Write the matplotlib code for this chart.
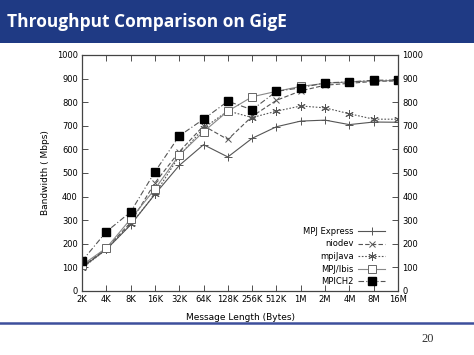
import matplotlib
matplotlib.use("Agg")
import matplotlib.pyplot as plt
from matplotlib.patches import Rectangle
from matplotlib.lines import Line2D

sizes = ["2K", "4K", "8K", "16K", "32K", "64K", "128K", "256K", "512K", "1M", "2M", "4M", "8M", "16M"]
mpj_express = [100, 176, 280, 410, 532, 620, 568, 647, 696, 720, 724, 705, 716, 715]
niodev = [102, 180, 290, 458, 590, 700, 642, 740, 808, 848, 872, 880, 888, 890]
mpijava = [96, 176, 282, 410, 572, 690, 763, 735, 762, 784, 776, 751, 728, 728]
mpj_ibis = [110, 182, 305, 432, 576, 675, 762, 823, 846, 867, 880, 886, 890, 892]
mpich2 = [127, 251, 335, 505, 657, 728, 804, 768, 846, 861, 882, 886, 893, 894]
yticks = [0, 100, 200, 300, 400, 500, 600, 700, 800, 900, 1000]

W, H = 474, 355
fig = plt.figure(figsize=(W / 100, H / 100), dpi=100)
fig.patch.set_facecolor("white")

# title bar
fig.patches.append(Rectangle((0, 1 - 43 / H), 1, 43 / H, transform=fig.transFigure,
                             facecolor="#1f3a84", edgecolor="none", zorder=0))
fig.text(7 / W, 1 - 22 / H, "Throughput Comparison on GigE", color="white",
         fontsize=12.5, fontweight="bold", family="Open Sans", va="center", ha="left")
# bottom rule
fig.add_artist(Line2D([0, 1], [1 - 323 / H, 1 - 323 / H], transform=fig.transFigure,
                      color="#3d4f9c", lw=1.8))
fig.text(428 / W, 1 - 339 / H, "20", fontsize=9, family="Liberation Serif",
         ha="center", va="center", color="#333333")

ax = fig.add_axes([82 / W, (H - 291) / H, 316 / W, 236 / H])
x = list(range(len(sizes)))
ax.plot(x, mpj_express, color="#555555", lw=0.8, ls="-", marker="+", ms=6, mew=0.7,
        label="MPJ Express")
ax.plot(x, niodev, color="#555555", lw=0.8, ls=(0, (4, 2)), marker="x", ms=5, mew=0.7,
        label="niodev")
ax.plot(x, mpijava, color="#555555", lw=0.8, ls=(0, (1.5, 1.5)), marker=(6, 2, 0), ms=6, mew=0.7,
        label="mpiJava")
ax.plot(x, mpj_ibis, color="#888888", lw=0.8, ls="-", marker="s", ms=5.5, mfc="white",
        mec="#666666", mew=0.7, label="MPJ/Ibis")
ax.plot(x, mpich2, color="#555555", lw=0.8, ls=(0, (5, 2, 1, 2)), marker="s", ms=5.5,
        mfc="black", mec="black", label="MPICH2")

ax.set_xlim(0, len(sizes) - 1)
ax.set_ylim(0, 1000)
ax.set_xticks(x)
ax.set_xticklabels(sizes)
ax.set_yticks(yticks)
ax.tick_params(direction="in", length=4, width=0.6, labelsize=6, color="#333333",
               top=True, right=True, labelright=True, pad=3)
for s in ax.spines.values():
    s.set_color("#444444")
    s.set_linewidth(0.9)
ax.set_xlabel("Message Length (Bytes)", fontsize=6.5, labelpad=6)
ax.set_ylabel("Bandwidth ( Mbps)", fontsize=6.5, labelpad=5)

leg = ax.legend(loc="lower right", fontsize=6, frameon=False, markerfirst=False,
                handlelength=3.2, handletextpad=0.6, labelspacing=0.42, borderaxespad=0.2,
                bbox_to_anchor=(0.975, 0.0))
for t in leg.get_texts():
    t.set_ha("right")

fig.savefig("out.png", dpi=100)
